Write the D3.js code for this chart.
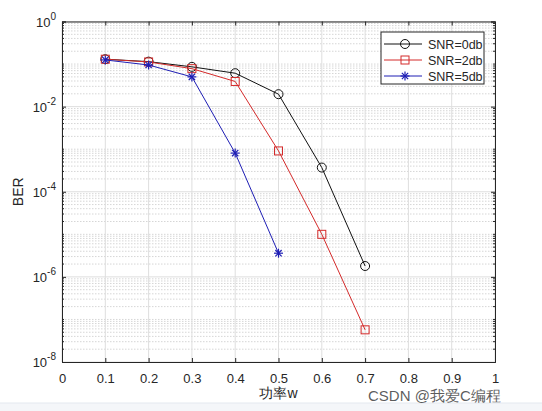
<!DOCTYPE html>
<html>
<head>
<meta charset="utf-8">
<script src="https://cdn.jsdelivr.net/npm/d3@7"></script>
<style>
  body { margin: 0; background: #fff; }
  svg { display: block; }
  text { font-family: "Liberation Sans", Arial, sans-serif; fill: #262626; }
</style>
</head>
<body>
<div id="chart"></div>
<script>
/* DATA */
const power = [0.1, 0.2, 0.3, 0.4, 0.5, 0.6, 0.7];
const ber0 = [0.13, 0.114, 0.086, 0.061, 0.0196, 3.7e-4, 1.8e-6];
const ber2 = [0.13, 0.112, 0.078, 0.039, 9.1e-4, 1.0e-5, 5.7e-8];
const ber5 = [0.125, 0.095, 0.05, 8.1e-4, 3.6e-6];
const seriesNames = ["SNR=0db", "SNR=2db", "SNR=5db"];
const xTicks = [0, 0.1, 0.2, 0.3, 0.4, 0.5, 0.6, 0.7, 0.8, 0.9, 1];
const yExps = [0, -2, -4, -6, -8];

/* CONSTANTS */
const width = 542, height = 411;
const margin = { top: 21.5, left: 62, right: 47, bottom: 49 };

const svg = d3.select("#chart").append("svg")
  .attr("width", width).attr("height", height);

const xScale = d3.scaleLinear().domain([0, 1])
  .range([margin.left, width - margin.right]);
const yScale = d3.scaleLog().domain([1e-8, 1])
  .range([height - margin.bottom, margin.top]);

const x0 = margin.left, x1 = width - margin.right;
const y0 = height - margin.bottom, y1 = margin.top;

// bottom page strip
svg.append("rect").attr("x", 0).attr("y", 403).attr("width", width).attr("height", 8)
  .attr("fill", "#f4f6f9");
svg.append("line").attr("x1", 0).attr("x2", width).attr("y1", 403).attr("y2", 403)
  .attr("stroke", "#e3e8ef");

// minor grid (horizontal, dotted)
const minorVals = [];
for (let e = -8; e < 0; e++) {
  for (let m = 1; m <= 9; m++) {
    const v = m * Math.pow(10, e);
    if (!(m === 1 && e % 2 === 0)) minorVals.push(v);
  }
}
svg.append("g").selectAll("line").data(minorVals).join("line")
  .attr("x1", x0).attr("x2", x1)
  .attr("y1", d => yScale(d)).attr("y2", d => yScale(d))
  .attr("stroke", "#d6d6d6").attr("stroke-width", 1)
  .attr("stroke-dasharray", "1.5,1.5");

// major grid
svg.append("g").selectAll("line").data(xTicks).join("line")
  .attr("x1", d => xScale(d)).attr("x2", d => xScale(d))
  .attr("y1", y0).attr("y2", y1)
  .attr("stroke", "#dedede").attr("stroke-width", 1);
svg.append("g").selectAll("line").data(yExps).join("line")
  .attr("x1", x0).attr("x2", x1)
  .attr("y1", d => yScale(Math.pow(10, d))).attr("y2", d => yScale(Math.pow(10, d)))
  .attr("stroke", "#dedede").attr("stroke-width", 1);

// axes (ticks inside, MATLAB style)
const xAxis = d3.axisBottom(xScale).tickValues(xTicks).tickSize(-4).tickPadding(12)
  .tickFormat(d => d === 0 || d === 1 ? d3.format("d")(d) : d3.format(".1f")(d));
const xAxisTop = d3.axisTop(xScale).tickValues(xTicks).tickSize(-4).tickFormat("");
const yAxis = d3.axisLeft(yScale).tickValues(yExps.map(e => Math.pow(10, e))).tickSize(-4)
  .tickFormat("");
const yAxisRight = d3.axisRight(yScale).tickValues(yExps.map(e => Math.pow(10, e))).tickSize(-4)
  .tickFormat("");

function styleAxis(g) {
  g.select(".domain").attr("stroke", "#262626");
  g.selectAll(".tick line").attr("stroke", "#262626");
  g.selectAll(".tick text").attr("font-size", 13).attr("fill", "#333")
    .attr("font-family", "Liberation Sans, Arial, sans-serif");
}

svg.append("g").attr("transform", `translate(0,${y0})`).call(xAxis).call(styleAxis);
svg.append("g").attr("transform", `translate(0,${y1})`).call(xAxisTop).call(styleAxis);
svg.append("g").attr("transform", `translate(${x0},0)`).call(yAxis).call(styleAxis);
svg.append("g").attr("transform", `translate(${x1},0)`).call(yAxisRight).call(styleAxis);

// y minor ticks on both sides
svg.append("g").selectAll("line").data(minorVals).join("line")
  .attr("x1", x0).attr("x2", x0 + 2)
  .attr("y1", d => yScale(d)).attr("y2", d => yScale(d))
  .attr("stroke", "#262626");
svg.append("g").selectAll("line").data(minorVals).join("line")
  .attr("x1", x1).attr("x2", x1 - 2)
  .attr("y1", d => yScale(d)).attr("y2", d => yScale(d))
  .attr("stroke", "#262626");

// y tick labels 10^n
const yLab = svg.append("g").selectAll("text").data(yExps).join("text")
  .attr("x", x0 - 6).attr("y", d => yScale(Math.pow(10, d)) + 5)
  .attr("text-anchor", "end").attr("font-size", 13).attr("fill", "#333");
yLab.append("tspan").text("10");
yLab.append("tspan").attr("dy", -7).attr("font-size", 10).text(d => d);

// axis labels
svg.append("text").attr("x", (x0 + x1) / 2).attr("y", 398)
  .attr("text-anchor", "middle").attr("font-size", 14)
  .attr("font-family", "Noto Sans CJK SC, sans-serif").text("功率w");
svg.append("text").attr("transform", `translate(23,${(y0 + y1) / 2}) rotate(-90)`)
  .attr("text-anchor", "middle").attr("font-size", 14).text("BER");

// series
const colors = ["#111111", "#d42a2a", "#1e1eb4"];
const allSeries = [ber0, ber2, ber5].map((vals, i) => ({
  name: seriesNames[i], color: colors[i],
  points: vals.map((v, j) => ({ x: power[j], y: v }))
}));

const line = d3.line().x(d => xScale(d.x)).y(d => yScale(d.y));

function drawMarker(g, i, color) {
  if (i === 0) {
    g.append("circle").attr("r", 4.5).attr("fill", "none").attr("stroke", color).attr("stroke-width", 1);
  } else if (i === 1) {
    g.append("rect").attr("x", -4).attr("y", -4).attr("width", 8).attr("height", 8)
      .attr("fill", "none").attr("stroke", color).attr("stroke-width", 1);
  } else {
    const r = 4.5;
    [[-r, 0, r, 0], [0, -r, 0, r], [-r * 0.7, -r * 0.7, r * 0.7, r * 0.7], [-r * 0.7, r * 0.7, r * 0.7, -r * 0.7]]
      .forEach(s => g.append("line").attr("x1", s[0]).attr("y1", s[1]).attr("x2", s[2]).attr("y2", s[3])
        .attr("stroke", color).attr("stroke-width", 1.2));
  }
}

allSeries.forEach((s, i) => {
  svg.append("path").datum(s.points).attr("d", line)
    .attr("fill", "none").attr("stroke", s.color).attr("stroke-width", 1);
  s.points.forEach(p => {
    const g = svg.append("g").attr("transform", `translate(${xScale(p.x)},${yScale(p.y)})`);
    drawMarker(g, i, s.color);
  });
});

// legend
const legend = svg.append("g").attr("transform", "translate(381,32)");
legend.append("rect").attr("width", 103).attr("height", 52)
  .attr("fill", "#fff").attr("stroke", "#262626").attr("stroke-width", 1);
allSeries.forEach((s, i) => {
  const yy = 12 + i * 16;
  legend.append("line").attr("x1", 3).attr("x2", 41).attr("y1", yy).attr("y2", yy)
    .attr("stroke", s.color);
  drawMarker(legend.append("g").attr("transform", `translate(24,${yy})`), i, s.color);
  legend.append("text").attr("x", 47).attr("y", yy + 4.5).attr("font-size", 12.5).text(s.name);
});

// watermark
svg.append("text").attr("x", 368).attr("y", 401).attr("font-size", 15)
  .attr("fill", "#9a9a9a").attr("fill-opacity", 0.75)
  .attr("font-family", "Noto Sans CJK SC, sans-serif").text("CSDN @我爱C编程");
</script>
</body>
</html>
